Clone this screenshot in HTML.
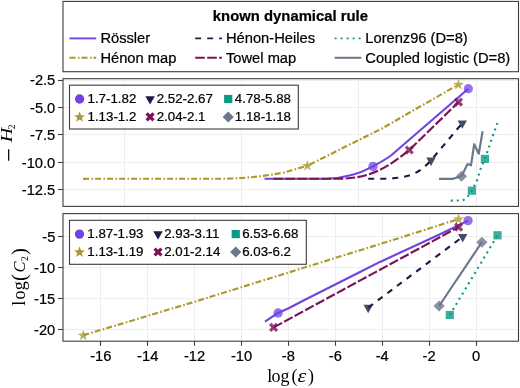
<!DOCTYPE html>
<html><head><meta charset="utf-8"><title>known dynamical rule</title>
<style>
html,body{margin:0;padding:0;background:#fff;}
svg{display:block}
text{font-family:"Liberation Sans",sans-serif;fill:#000;stroke:#000;stroke-width:0.22px}
.s{stroke-width:0}
.s{font-family:"Liberation Serif",serif}
.t{font-size:14.7px}
.l{font-size:14.7px}
.m{font-size:13.3px}
</style></head><body>
<svg width="520" height="388" viewBox="0 0 520 388">
<rect width="520" height="388" fill="#fff"/>
<rect x="63" y="1.4" width="455.5" height="70.3" fill="#fff" stroke="#3d3d3d" stroke-width="1.1"/>
<text x="290.4" y="20.9" text-anchor="middle" font-weight="bold" style="font-size:14.85px">known dynamical rule</text>
<path d="M69.5 38.4H96.2" stroke="#7143E0" stroke-width="1.9" fill="none"/>
<path d="M69.5 57.8H96.2" stroke="#AB992A" stroke-width="1.9" fill="none" stroke-dasharray="6 2.4 1.6 2"/>
<path d="M195.2 38.4H221.9" stroke="#191E44" stroke-width="1.9" fill="none" stroke-dasharray="6 6"/>
<path d="M195.2 57.8H221.9" stroke="#791457" stroke-width="1.9" fill="none" stroke-dasharray="9.6 2.4"/>
<path d="M334.6 38.4H361.3" stroke="#0A9A84" stroke-width="1.9" fill="none" stroke-dasharray="2 4"/>
<path d="M334.6 57.8H361.3" stroke="#6C768C" stroke-width="2" fill="none"/>
<text class="l" x="100.4" y="43.1">Rössler</text>
<text class="l" x="100.4" y="62.5">Hénon map</text>
<text class="l" x="226" y="43.1">Hénon-Heiles</text>
<text class="l" x="226" y="62.5">Towel map</text>
<text class="l" x="365.3" y="43.1">Lorenz96 (D=8)</text>
<text class="l" x="365.3" y="62.5">Coupled logistic (D=8)</text>
<rect x="63.0" y="78.7" width="455.5" height="127.7" fill="#fff"/>
<path d="M124.5 78.7V206.4" stroke="#eeeeee" stroke-width="1"/>
<path d="M241.5 78.7V206.4" stroke="#eeeeee" stroke-width="1"/>
<path d="M358.5 78.7V206.4" stroke="#eeeeee" stroke-width="1"/>
<path d="M476.5 78.7V206.4" stroke="#eeeeee" stroke-width="1"/>
<path d="M63.0 80.5H518.5" stroke="#eeeeee" stroke-width="1"/>
<path d="M63.0 107.5H518.5" stroke="#eeeeee" stroke-width="1"/>
<path d="M63.0 134.5H518.5" stroke="#eeeeee" stroke-width="1"/>
<path d="M63.0 162.5H518.5" stroke="#eeeeee" stroke-width="1"/>
<path d="M63.0 189.5H518.5" stroke="#eeeeee" stroke-width="1"/>
<clipPath id="c1"><rect x="63.5" y="78.7" width="455" height="127.7"/></clipPath><g clip-path="url(#c1)">
<path d="M264.5 178.7 L326 178.7 C346 178.4 359.6 173.8 373 166.4 C379 163.1 384.5 160.2 391 155.5 L468.3 88.7" stroke="#7143E0" stroke-width="2.15" fill="none" stroke-linejoin="round"/>
<circle cx="373" cy="166.4" r="4.65" fill="#7143E0" fill-opacity="0.75"/>
<circle cx="468.3" cy="88.7" r="4.65" fill="#7143E0" fill-opacity="0.75"/>
<path d="M83.1 178.8 L225 178.7 C245 178.3 262 176.6 284 172.5 L307.4 165.7 L358.8 140 L382 128.5 L414.1 110 L458.5 84.5" stroke="#AB992A" stroke-width="2.15" fill="none" stroke-linejoin="round" stroke-dasharray="6 2.4 1.6 2"/>
<polygon points="307.40,160.10 308.81,163.96 312.92,164.11 309.68,166.64 310.81,170.59 307.40,168.30 303.99,170.59 305.12,166.64 301.88,164.11 305.99,163.96" fill="#AB992A" fill-opacity="0.75"/>
<polygon points="458.50,78.90 459.91,82.76 464.02,82.91 460.78,85.44 461.91,89.39 458.50,87.10 455.09,89.39 456.22,85.44 452.98,82.91 457.09,82.76" fill="#AB992A" fill-opacity="0.75"/>
<path d="M368.2 178.7 L385 178.7 C410 178.2 420 172.5 431 160.3 L462.3 123.2" stroke="#191E44" stroke-width="2.15" fill="none" stroke-linejoin="round" stroke-dasharray="6 6"/>
<polygon points="426.30,157.50 435.70,157.50 431,165.90" fill="#191E44" fill-opacity="0.8"/>
<polygon points="457.60,120.40 467.00,120.40 462.3,128.80" fill="#191E44" fill-opacity="0.8"/>
<path d="M273.5 178.7 L340 178.7 C368 178 384 170.5 409.3 150 L458.5 102.1" stroke="#791457" stroke-width="2.15" fill="none" stroke-linejoin="round" stroke-dasharray="9.6 2.4"/>
<polygon points="404.70,147.70 407.00,145.40 409.30,147.70 411.60,145.40 413.90,147.70 411.60,150.00 413.90,152.30 411.60,154.60 409.30,152.30 407.00,154.60 404.70,152.30 407.00,150.00" fill="#791457" fill-opacity="0.8"/>
<polygon points="453.90,99.80 456.20,97.50 458.50,99.80 460.80,97.50 463.10,99.80 460.80,102.10 463.10,104.40 460.80,106.70 458.50,104.40 456.20,106.70 453.90,104.40 456.20,102.10" fill="#791457" fill-opacity="0.8"/>
<path d="M450.8 200.6 L462 200.4 C466 199.5 468.5 196 471.9 190.7 L477 180.6 L480.5 169 L484.9 158.9 L497.3 123" stroke="#0A9A84" stroke-width="2.15" fill="none" stroke-linejoin="round" stroke-dasharray="2 4"/>
<rect x="467.79999999999995" y="186.6" width="8.2" height="8.2" fill="#0A9A84" fill-opacity="0.8"/>
<rect x="480.79999999999995" y="154.8" width="8.2" height="8.2" fill="#0A9A84" fill-opacity="0.8"/>
<path d="M439 178.8 L452.9 178.8 L461.5 176.2 L467.6 164.1 L471 165.3 L474.2 144.2 L478.8 153.7 L482.6 131.2" stroke="#6C768C" stroke-width="2.15" fill="none" stroke-linejoin="round"/>
<polygon points="455.9,176.2 461.5,170.7 467.1,176.2 461.5,181.7" fill="#6C768C" fill-opacity="0.8"/>
</g>
<rect x="69.5" y="85.2" width="228.8" height="43.8" fill="#fff" stroke="#3d3d3d" stroke-width="1.1"/>
<circle cx="79.6" cy="99.0" r="4.65" fill="#7143E0" fill-opacity="1"/>
<text class="m" x="87.5" y="103.3">1.7-1.82</text>
<polygon points="145.40,96.20 154.80,96.20 150.1,104.60" fill="#191E44" fill-opacity="1"/>
<text class="m" x="156.7" y="103.3">2.52-2.67</text>
<rect x="224.1" y="94.9" width="8.2" height="8.2" fill="#0A9A84" fill-opacity="1"/>
<text class="m" x="234.8" y="103.3">4.78-5.88</text>
<polygon points="79.60,111.30 81.01,115.16 85.12,115.31 81.88,117.84 83.01,121.79 79.60,119.50 76.19,121.79 77.32,117.84 74.08,115.31 78.19,115.16" fill="#AB992A" fill-opacity="1"/>
<text class="m" x="87.5" y="121.2">1.13-1.2</text>
<polygon points="145.50,114.60 147.80,112.30 150.10,114.60 152.40,112.30 154.70,114.60 152.40,116.90 154.70,119.20 152.40,121.50 150.10,119.20 147.80,121.50 145.50,119.20 147.80,116.90" fill="#791457" fill-opacity="1"/>
<text class="m" x="156.7" y="121.2">2.04-2.1</text>
<polygon points="222.6,116.9 228.2,111.4 233.79999999999998,116.9 228.2,122.4" fill="#6C768C" fill-opacity="1"/>
<text class="m" x="234.8" y="121.2">1.18-1.18</text>
<path d="M58.0 80.5H63.0" stroke="#3d3d3d" stroke-width="1.1"/>
<text class="t" x="55.3" y="85.4" text-anchor="end">-2.5</text>
<path d="M58.0 107.5H63.0" stroke="#3d3d3d" stroke-width="1.1"/>
<text class="t" x="55.3" y="112.8" text-anchor="end">-5.0</text>
<path d="M58.0 134.5H63.0" stroke="#3d3d3d" stroke-width="1.1"/>
<text class="t" x="55.3" y="140.1" text-anchor="end">-7.5</text>
<path d="M58.0 162.5H63.0" stroke="#3d3d3d" stroke-width="1.1"/>
<text class="t" x="55.3" y="167.5" text-anchor="end">-10.0</text>
<path d="M58.0 189.5H63.0" stroke="#3d3d3d" stroke-width="1.1"/>
<text class="t" x="55.3" y="194.8" text-anchor="end">-12.5</text>
<rect x="63.0" y="78.7" width="455.5" height="127.7" fill="none" stroke="#3d3d3d" stroke-width="1.1"/>
<rect x="63.0" y="213.6" width="455.5" height="127.6" fill="#fff"/>
<path d="M100.5 213.6V341.2" stroke="#eeeeee" stroke-width="1"/>
<path d="M147.5 213.6V341.2" stroke="#eeeeee" stroke-width="1"/>
<path d="M194.5 213.6V341.2" stroke="#eeeeee" stroke-width="1"/>
<path d="M241.5 213.6V341.2" stroke="#eeeeee" stroke-width="1"/>
<path d="M288.5 213.6V341.2" stroke="#eeeeee" stroke-width="1"/>
<path d="M335.5 213.6V341.2" stroke="#eeeeee" stroke-width="1"/>
<path d="M382.5 213.6V341.2" stroke="#eeeeee" stroke-width="1"/>
<path d="M429.5 213.6V341.2" stroke="#eeeeee" stroke-width="1"/>
<path d="M476.5 213.6V341.2" stroke="#eeeeee" stroke-width="1"/>
<path d="M63.0 236.5H518.5" stroke="#eeeeee" stroke-width="1"/>
<path d="M63.0 267.5H518.5" stroke="#eeeeee" stroke-width="1"/>
<path d="M63.0 298.5H518.5" stroke="#eeeeee" stroke-width="1"/>
<path d="M63.0 329.5H518.5" stroke="#eeeeee" stroke-width="1"/>
<clipPath id="c2"><rect x="63.5" y="213.6" width="455" height="127.6"/></clipPath><g clip-path="url(#c2)">
<path d="M264.9 321.7 C270 318.5 273.5 315.8 278.1 313 L288.6 308.3 L305 299.8 L360 272 L380 261.9 L440 234.2 L468.1 220.6" stroke="#7143E0" stroke-width="2.15" fill="none" stroke-linejoin="round"/>
<circle cx="278.1" cy="313" r="4.65" fill="#7143E0" fill-opacity="0.75"/>
<circle cx="468.1" cy="220.6" r="4.65" fill="#7143E0" fill-opacity="0.75"/>
<path d="M83.25 335.25 L194.5 301.8 L400 237.8 L458.6 219" stroke="#AB992A" stroke-width="2.15" fill="none" stroke-linejoin="round" stroke-dasharray="6 2.4 1.6 2"/>
<polygon points="83.25,329.65 84.66,333.51 88.77,333.66 85.53,336.19 86.66,340.14 83.25,337.85 79.84,340.14 80.97,336.19 77.73,333.66 81.84,333.51" fill="#AB992A" fill-opacity="0.75"/>
<polygon points="458.60,213.40 460.01,217.26 464.12,217.41 460.88,219.94 462.01,223.89 458.60,221.60 455.19,223.89 456.32,219.94 453.08,217.41 457.19,217.26" fill="#AB992A" fill-opacity="0.75"/>
<path d="M368.2 307.6 L462.7 236.8" stroke="#191E44" stroke-width="2.15" fill="none" stroke-linejoin="round" stroke-dasharray="6 6"/>
<polygon points="363.50,304.80 372.90,304.80 368.2,313.20" fill="#191E44" fill-opacity="0.8"/>
<polygon points="458.00,234.00 467.40,234.00 462.7,242.40" fill="#191E44" fill-opacity="0.8"/>
<path d="M273.6 327.4 L458.6 227.1" stroke="#791457" stroke-width="2.15" fill="none" stroke-linejoin="round" stroke-dasharray="9.6 2.4"/>
<polygon points="269.00,325.10 271.30,322.80 273.60,325.10 275.90,322.80 278.20,325.10 275.90,327.40 278.20,329.70 275.90,332.00 273.60,329.70 271.30,332.00 269.00,329.70 271.30,327.40" fill="#791457" fill-opacity="0.8"/>
<polygon points="454.00,224.80 456.30,222.50 458.60,224.80 460.90,222.50 463.20,224.80 460.90,227.10 463.20,229.40 460.90,231.70 458.60,229.40 456.30,231.70 454.00,229.40 456.30,227.10" fill="#791457" fill-opacity="0.8"/>
<path d="M449.8 315 L497.5 235.3" stroke="#0A9A84" stroke-width="2.15" fill="none" stroke-linejoin="round" stroke-dasharray="2 4"/>
<rect x="445.7" y="310.9" width="8.2" height="8.2" fill="#0A9A84" fill-opacity="0.8"/>
<rect x="493.4" y="231.20000000000002" width="8.2" height="8.2" fill="#0A9A84" fill-opacity="0.8"/>
<path d="M439.1 306 L481.9 242.2" stroke="#6C768C" stroke-width="2.15" fill="none" stroke-linejoin="round"/>
<polygon points="433.5,306 439.1,300.5 444.70000000000005,306 439.1,311.5" fill="#6C768C" fill-opacity="0.8"/>
<polygon points="476.29999999999995,242.2 481.9,236.7 487.5,242.2 481.9,247.7" fill="#6C768C" fill-opacity="0.8"/>
</g>
<rect x="69.5" y="220.3" width="236.8" height="44.0" fill="#fff" stroke="#3d3d3d" stroke-width="1.1"/>
<circle cx="79.5" cy="234.10000000000002" r="4.65" fill="#7143E0" fill-opacity="1"/>
<text class="m" x="87.3" y="238.4">1.87-1.93</text>
<polygon points="153.30,231.30 162.70,231.30 158,239.70" fill="#191E44" fill-opacity="1"/>
<text class="m" x="164.2" y="238.4">2.93-3.11</text>
<rect x="231.65" y="230.00000000000003" width="8.2" height="8.2" fill="#0A9A84" fill-opacity="1"/>
<text class="m" x="242.2" y="238.4">6.53-6.68</text>
<polygon points="79.50,246.40 80.91,250.26 85.02,250.41 81.78,252.94 82.91,256.89 79.50,254.60 76.09,256.89 77.22,252.94 73.98,250.41 78.09,250.26" fill="#AB992A" fill-opacity="1"/>
<text class="m" x="87.3" y="256.3">1.13-1.19</text>
<polygon points="153.40,249.70 155.70,247.40 158.00,249.70 160.30,247.40 162.60,249.70 160.30,252.00 162.60,254.30 160.30,256.60 158.00,254.30 155.70,256.60 153.40,254.30 155.70,252.00" fill="#791457" fill-opacity="1"/>
<text class="m" x="164.2" y="256.3">2.01-2.14</text>
<polygon points="230.15,252.0 235.75,246.5 241.35,252.0 235.75,257.5" fill="#6C768C" fill-opacity="1"/>
<text class="m" x="242.2" y="256.3">6.03-6.2</text>
<path d="M58.0 236.5H63.0" stroke="#3d3d3d" stroke-width="1.1"/>
<text class="t" x="55.3" y="242.3" text-anchor="end">-5</text>
<path d="M58.0 267.5H63.0" stroke="#3d3d3d" stroke-width="1.1"/>
<text class="t" x="55.3" y="273.2" text-anchor="end">-10</text>
<path d="M58.0 298.5H63.0" stroke="#3d3d3d" stroke-width="1.1"/>
<text class="t" x="55.3" y="304.0" text-anchor="end">-15</text>
<path d="M58.0 329.5H63.0" stroke="#3d3d3d" stroke-width="1.1"/>
<text class="t" x="55.3" y="334.9" text-anchor="end">-20</text>
<rect x="63.0" y="213.6" width="455.5" height="127.6" fill="none" stroke="#3d3d3d" stroke-width="1.1"/>
<path d="M100.5 341.2V345.8" stroke="#3d3d3d" stroke-width="1.1"/>
<text class="t" x="100.8" y="361.3" text-anchor="middle">-16</text>
<path d="M147.5 341.2V345.8" stroke="#3d3d3d" stroke-width="1.1"/>
<text class="t" x="147.7" y="361.3" text-anchor="middle">-14</text>
<path d="M194.5 341.2V345.8" stroke="#3d3d3d" stroke-width="1.1"/>
<text class="t" x="194.6" y="361.3" text-anchor="middle">-12</text>
<path d="M241.5 341.2V345.8" stroke="#3d3d3d" stroke-width="1.1"/>
<text class="t" x="241.5" y="361.3" text-anchor="middle">-10</text>
<path d="M288.5 341.2V345.8" stroke="#3d3d3d" stroke-width="1.1"/>
<text class="t" x="288.4" y="361.3" text-anchor="middle">-8</text>
<path d="M335.5 341.2V345.8" stroke="#3d3d3d" stroke-width="1.1"/>
<text class="t" x="335.3" y="361.3" text-anchor="middle">-6</text>
<path d="M382.5 341.2V345.8" stroke="#3d3d3d" stroke-width="1.1"/>
<text class="t" x="382.2" y="361.3" text-anchor="middle">-4</text>
<path d="M429.5 341.2V345.8" stroke="#3d3d3d" stroke-width="1.1"/>
<text class="t" x="429.1" y="361.3" text-anchor="middle">-2</text>
<path d="M476.5 341.2V345.8" stroke="#3d3d3d" stroke-width="1.1"/>
<text class="t" x="476.0" y="361.3" text-anchor="middle">0</text>
<text class="s" y="381.5" style="font-size:18px" x="267.2 271.4 280.6 291.6 308.1">log()</text>
<text class="s" transform="translate(297.6,381.5) scale(1.22,1)" font-style="italic" style="font-size:18px">ε</text>
<g transform="translate(12,160.8) rotate(-90)"><text class="s" x="-0.9" y="5.4" style="font-size:24.6px">−</text><text class="s" transform="translate(18.6,0) scale(1.25,1)" font-style="italic" style="font-size:16px">H</text><text class="s" x="31.6" y="3.2" style="font-size:9.5px">2</text></g>
<g transform="translate(24.9,305.7) rotate(-90)"><text class="s" y="0" style="font-size:18px" x="0 6.3 15.4">log</text><text class="s" y="1" style="font-size:20.5px" x="24.6 50.8">()</text><text class="s" x="33.2" y="0" font-style="italic" style="font-size:16.5px">C</text><text class="s" x="44.6" y="3.2" style="font-size:9.5px">2</text></g>
</svg></body></html>
